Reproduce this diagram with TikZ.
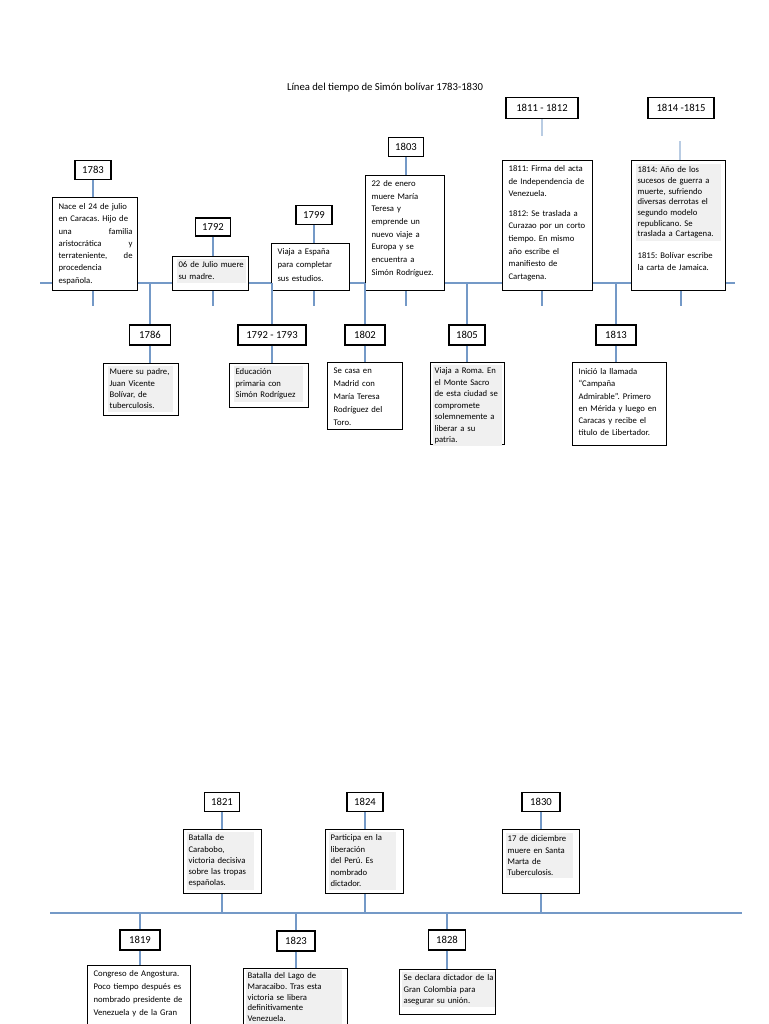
\documentclass[tikz,border=0pt]{standalone}
\usepackage{fontspec}
\setmainfont{Carlito}
\usetikzlibrary{positioning}
\definecolor{tlblue}{RGB}{116,153,199}
\definecolor{hilite}{RGB}{240,240,240}
\frenchspacing

\begin{document}
\begin{tikzpicture}[x=0.75pt,y=-0.75pt,
  yearbox/.style 2 args={draw,line width=0.8pt,fill=white,minimum width=#1*0.75pt,minimum height=#2*0.75pt,inner sep=0pt,font=\fontsize{8}{9}\selectfont},
  evbox/.style 2 args={draw,line width=0.8pt,fill=white,anchor=north west,minimum width=#1*0.75pt,minimum height=#2*0.75pt,inner sep=0pt},
  evtext/.style 2 args={anchor=north west,text width=#1*0.75pt,inner sep=1pt,align=left,font=\fontsize{6.5}{#2}\selectfont},
  hl/.style={fill=hilite,inner ysep=2pt},
  tline/.style={draw=tlblue,line width=1.1pt},
  link/.style={draw=tlblue,line width=0.9pt}]
\clip (0,0) rectangle (768,1024);
\fill[white] (0,0) rectangle (768,1024);
\node[font=\fontsize{8}{9}\selectfont] (title) at (385,88) {Línea del tiempo de Simón bolívar 1783-1830};
\coordinate (tA) at (40,283);
\coordinate (tAe) at (735,283);
\coordinate (kA) at (0,306);
\coordinate (tB) at (50,913);
\coordinate (tBe) at (742,913);
\draw[tline] (tA) -- (tAe);
\draw[tline] (tB) -- (tBe);

\node[yearbox={36}{19}] (y1783) at (93,170) {1783};
\node[evbox={85}{93}] (e1783) at (52,197) {};
\node[evtext={74}{9.2}] (t1783) at ([shift={(5,5)}]e1783.north west) {Nace el 24 de julio\\ en Caracas. Hijo de\\ una \hfill familia\\ aristocrática \hfill y\\ terrateniente, \hfill de\\ procedencia\\ española.};
\node[yearbox={35}{18}] (y1792) at (213,227) {1792};
\node[evbox={76}{34}] (e1792) at (172,256) {};
\node[evtext={66}{9},hl] (t1792) at ([shift={(5,3)}]e1792.north west) {06 de Julio muere\\ su madre.};
\node[yearbox={36}{19}] (y1799) at (314,215) {1799};
\node[evbox={78}{47}] (e1799) at (271,243) {};
\node[evtext={66}{10}] (t1799) at ([shift={(5,4)}]e1799.north west) {Viaja a España\\ para completar\\ sus estudios.};
\node[yearbox={35}{19}] (y1803) at (406,147) {1803};
\node[evbox={79}{115}] (e1803) at (365,175) {};
\node[evtext={68}{9.5}] (t1803) at ([shift={(5,4)}]e1803.north west) {22 de enero\\ muere María\\ Teresa y\\ emprende un\\ nuevo viaje a\\ Europa y se\\ encuentra a\\ Simón Rodríguez.};
\node[yearbox={72}{21}] (y1811) at (542,108) {1811 - 1812};
\node[evbox={90}{130}] (e1811) at (502,160) {};
\node[evtext={80}{9.5}] (t1811) at ([shift={(5,4)}]e1811.north west) {1811: Firma del acta\\ de Independencia de\\ Venezuela.\\[5pt] 1812: Se traslada a\\ Curazao por un corto\\ tiempo. En mismo\\ año escribe el\\ manifiesto de\\ Cartagena.};
\node[yearbox={66}{21}] (y1814) at (681,108) {1814 -1815};
\node[evbox={94}{130}] (e1814) at (631,160) {};
\node[evtext={82}{8},hl] (t1814) at ([shift={(5,4)}]e1814.north west) {1814: Año de los\\ sucesos de guerra a\\ muerte, sufriendo\\ diversas derrotas el\\ segundo modelo\\ republicano. Se\\ traslada a Cartagena.\\[2pt]};
\node[evtext={82}{9}] (t1815) at ([shift={(5,91)}]e1814.north west) {1815: Bolívar escribe\\ la carta de Jamaica.};
\coordinate (f1811) at (542,136);
\coordinate (f1814) at (680,141);
\draw[link,draw=tlblue!50] (y1811.south) -- (f1811);
\draw[link,draw=tlblue!50] (f1814) -- (f1814 |- e1814.north);

\node[yearbox={41}{20}] (y1786) at (150,335) {1786};
\node[evbox={75}{52}] (e1786) at (103,363) {};
\node[evtext={62}{8.5},hl] (t1786) at ([shift={(5,3)}]e1786.north west) {Muere su padre,\\ Juan Vicente\\ Bolívar, de\\ tuberculosis.};
\node[yearbox={68}{20}] (y1793) at (272,335) {1792 - 1793};
\node[evbox={79}{44}] (e1793) at (229,363) {};
\node[evtext={66}{8.5},hl] (t1793) at ([shift={(5,3)}]e1793.north west) {Educación\\ primaria con\\ Simón Rodríguez};
\node[yearbox={40}{20}] (y1802) at (365,335) {1802};
\node[evbox={75}{67}] (e1802) at (327,362) {};
\node[evtext={64}{9.8}] (t1802) at ([shift={(5,4)}]e1802.north west) {Se casa en\\ Madrid con\\ María Teresa\\ Rodríguez del\\ Toro.};
\node[yearbox={36}{20}] (y1805) at (467,335) {1805};
\node[evbox={74}{82}] (e1805) at (430,362) {};
\begin{scope}
\clip (e1805.north west) rectangle (e1805.south east);
\node[evtext={66}{8.6},hl] (t1805) at ([shift={(3,3)}]e1805.north west) {Viaja a Roma. En\\ el Monte Sacro\\ de esta ciudad se\\ compromete\\ solemnemente a\\ liberar a su\\ patria.};
\end{scope}
\node[yearbox={40}{20}] (y1813) at (616,335) {1813};
\node[evbox={94}{83}] (e1813) at (572,362) {};
\node[evtext={84}{9.2}] (t1813) at ([shift={(5,5)}]e1813.north west) {Inició la llamada\\ ``Campaña\\ Admirable''. Primero\\ en Mérida y luego en\\ Caracas y recibe el\\ título de Libertador.};

\node[yearbox={35}{19}] (y1821) at (222,802) {1821};
\node[evbox={78}{64}] (e1821) at (183,829) {};
\node[evtext={64}{8.4},hl] (t1821) at ([shift={(4,3)}]e1821.north west) {Batalla de\\ Carabobo,\\ victoria decisiva\\ sobre las tropas\\ españolas.};
\node[yearbox={36}{19}] (y1824) at (365,802) {1824};
\node[evbox={78}{64}] (e1824) at (325,829) {};
\node[evtext={64}{8.6},hl] (t1824) at ([shift={(4,3)}]e1824.north west) {Participa en la\\ liberación\\ del Perú. Es\\ nombrado\\ dictador.};
\node[yearbox={38}{19}] (y1830) at (541,802) {1830};
\node[evbox={77}{64}] (e1830) at (502,829) {};
\node[evtext={64}{8.4},hl] (t1830) at ([shift={(4,4)}]e1830.north west) {17 de diciembre\\ muere en Santa\\ Marta de\\ Tuberculosis.};

\node[yearbox={40}{20}] (y1819) at (140,940) {1819};
\node[evbox={103}{80}] (e1819) at (87,965) {};
\node[evtext={92}{9.6}] (t1819) at ([shift={(5,4)}]e1819.north west) {Congreso de Angostura.\\ Poco tiempo después es\\ nombrado presidente de\\ Venezuela y de la Gran};
\node[yearbox={38}{20}] (y1823) at (296,941) {1823};
\node[evbox={104}{75}] (e1823) at (243,968) {};
\node[evtext={93}{8},hl] (t1823) at ([shift={(3,2)}]e1823.north west) {Batalla del Lago de\\ Maracaibo. Tras esta\\ victoria se libera\\ definitivamente\\ Venezuela.};
\node[yearbox={37}{20}] (y1828) at (447,940) {1828};
\node[evbox={96}{45}] (e1828) at (399,969) {};
\node[evtext={90}{8.3},hl] (t1828) at ([shift={(3,3)}]e1828.north west) {Se declara dictador de la\\ Gran Colombia para\\ asegurar su unión.};

\foreach \n in {1783,1792,1799,1803}
  \draw[link] (y\n.south) -- (y\n.south |- e\n.north);
\foreach \n in {1783,1792,1799,1803,1811,1814}
  \draw[link] (y\n |- e\n.south) -- (y\n |- kA);
\foreach \n in {1786,1793,1802,1805,1813}{
  \draw[link] (y\n.north |- tA) -- (y\n.north);
  \draw[link] (y\n.south) -- (y\n.south |- e\n.north);}
\foreach \n in {1821,1824,1830}{
  \draw[link] (y\n.south) -- (y\n.south |- e\n.north);
  \draw[link] (y\n |- e\n.south) -- (y\n |- tB);}
\foreach \n in {1819,1823,1828}{
  \draw[link] (y\n.north |- tB) -- (y\n.north);
  \draw[link] (y\n.south) -- (y\n.south |- e\n.north);}
\end{tikzpicture}
\end{document}
